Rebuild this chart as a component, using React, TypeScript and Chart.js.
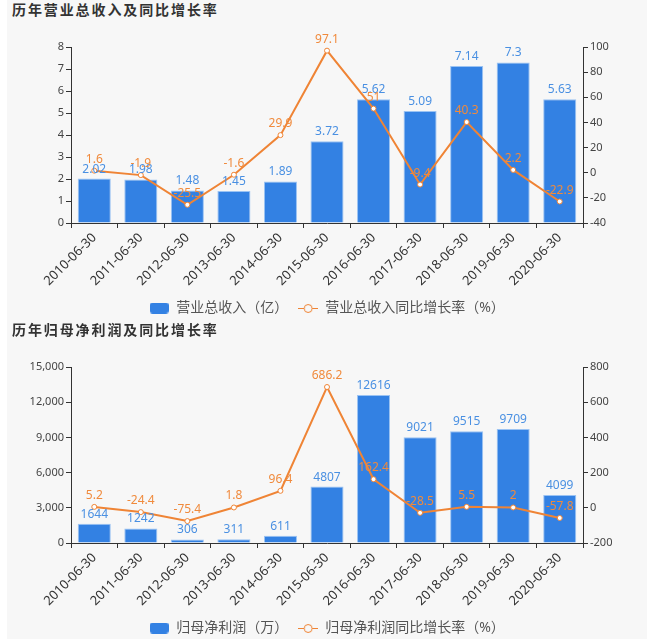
import React, { useEffect, useRef } from 'react';
import { Chart, registerables } from 'chart.js';

Chart.register(...registerables);

const categories = [
  '2010-06-30', '2011-06-30', '2012-06-30', '2013-06-30', '2014-06-30', '2015-06-30',
  '2016-06-30', '2017-06-30', '2018-06-30', '2019-06-30', '2020-06-30',
];
const revenue = [2.02, 1.98, 1.48, 1.45, 1.89, 3.72, 5.62, 5.09, 7.14, 7.3, 5.63];
const revenueGrowth = [1.6, -1.9, -25.5, -1.6, 29.9, 97.1, 51, -9.4, 40.3, 2.2, -22.9];
const profit = [1644, 1242, 306, 311, 611, 4807, 12616, 9021, 9515, 9709, 4099];
const profitGrowth = [5.2, -24.4, -75.4, 1.8, 96.4, 686.2, 162.4, -28.5, 5.5, 2, -57.8];

const revenueAxis = { min: 0, max: 8, step: 1 };
const revenueGrowthAxis = { min: -40, max: 100, step: 20 };
const profitAxis = { min: 0, max: 15000, step: 3000 };
const profitGrowthAxis = { min: -200, max: 800, step: 200 };

const BAR_COLOR = '#3381e3';
const BAR_BORDER = 'rgba(150,192,242,0.95)';
const BAR_LABEL = '#4a90e2';
const LINE_COLOR = '#ef8435';
const LINE_LABEL = '#f08a3c';
const PANEL_BG = '#f7f7f7';
const FONT = '"Noto Sans", "Noto Sans CJK SC", sans-serif';

function makeBarMarker() {
  const c = document.createElement('canvas');
  c.width = 19;
  c.height = 11;
  const ctx = c.getContext('2d')!;
  ctx.fillStyle = BAR_COLOR;
  ctx.beginPath();
  const r = 3, w = 19, h = 11;
  ctx.moveTo(r, 0);
  ctx.lineTo(w - r, 0);
  ctx.quadraticCurveTo(w, 0, w, r);
  ctx.lineTo(w, h - r);
  ctx.quadraticCurveTo(w, h, w - r, h);
  ctx.lineTo(r, h);
  ctx.quadraticCurveTo(0, h, 0, h - r);
  ctx.lineTo(0, r);
  ctx.quadraticCurveTo(0, 0, r, 0);
  ctx.fill();
  return c;
}

function makeLineMarker() {
  const c = document.createElement('canvas');
  c.width = 20;
  c.height = 12;
  const ctx = c.getContext('2d')!;
  ctx.strokeStyle = LINE_COLOR;
  ctx.lineWidth = 1;
  ctx.beginPath();
  ctx.moveTo(0, 6.5);
  ctx.lineTo(20, 6.5);
  ctx.stroke();
  ctx.beginPath();
  ctx.arc(10, 6.5, 4, 0, Math.PI * 2);
  ctx.fillStyle = PANEL_BG;
  ctx.fill();
  ctx.stroke();
  return c;
}

const valueLabels = {
  id: 'valueLabels',
  afterDatasetsDraw(chart: any) {
    const ctx = chart.ctx;
    ctx.save();
    ctx.font = `12px ${FONT}`;
    ctx.textAlign = 'center';
    ctx.textBaseline = 'alphabetic';
    chart.data.datasets.forEach((ds: any, di: number) => {
      const meta = chart.getDatasetMeta(di);
      const isBar = ds.type === 'bar';
      ctx.fillStyle = isBar ? BAR_LABEL : LINE_LABEL;
      meta.data.forEach((el: any, i: number) => {
        const v = ds.data[i];
        ctx.fillText(String(v), el.x, el.y - (isBar ? 6 : 8));
      });
    });
    ctx.restore();
  },
};

interface PanelProps {
  title: string;
  bars: number[];
  line: number[];
  barName: string;
  lineName: string;
  left: { min: number; max: number; step: number };
  right: { min: number; max: number; step: number };
  thousands?: boolean;
  top: number;
}

function ChartPanel(p: PanelProps) {
  const ref = useRef<HTMLCanvasElement>(null);
  useEffect(() => {
    if (!ref.current) return;
    const barMarker = makeBarMarker();
    const lineMarker = makeLineMarker();
    const axisCommon = {
      grid: { drawOnChartArea: false, tickLength: 5, color: '#333' },
      border: { color: '#333' },
    };
    const chart = new Chart(ref.current, {
      type: 'bar',
      data: {
        labels: categories,
        datasets: [
          {
            type: 'bar',
            label: p.barName,
            data: p.bars,
            backgroundColor: BAR_COLOR,
            borderColor: BAR_BORDER,
            borderWidth: 1,
            barPercentage: 0.71,
            categoryPercentage: 1,
            yAxisID: 'y',
            order: 2,
          },
          {
            type: 'line',
            label: p.lineName,
            data: p.line,
            borderColor: LINE_COLOR,
            borderWidth: 2,
            pointRadius: 2.5,
            pointBorderWidth: 1,
            pointBackgroundColor: '#ffffff',
            pointBorderColor: LINE_COLOR,
            tension: 0,
            yAxisID: 'y1',
            order: 1,
          },
        ],
      } as any,
      options: {
        animation: false,
        responsive: false,
        maintainAspectRatio: false,
        layout: { padding: { top: 47, left: 0, right: 0, bottom: 0 } },
        scales: {
          x: {
            ...axisCommon,
            grid: { ...axisCommon.grid, offset: true },
            ticks: {
              color: '#333',
              font: { size: 13, family: FONT },
              minRotation: 45,
              maxRotation: 45,
              autoSkip: false,
              padding: 2,
            },
            afterFit: (s: any) => { s.height = 68; },
          },
          y: {
            ...axisCommon,
            position: 'left',
            min: p.left.min,
            max: p.left.max,
            ticks: {
              stepSize: p.left.step,
              color: '#444',
              font: { size: 11, family: FONT },
              padding: 2,
              callback: (v: any) => (p.thousands ? Number(v).toLocaleString('en-US') : v),
            },
            afterFit: (s: any) => { s.width = 64; },
          },
          y1: {
            ...axisCommon,
            position: 'right',
            min: p.right.min,
            max: p.right.max,
            ticks: {
              stepSize: p.right.step,
              color: '#444',
              font: { size: 11, family: FONT },
              padding: 2,
            },
            afterFit: (s: any) => { s.width = 64; },
          },
        },
        plugins: {
          title: { display: false },
          tooltip: { enabled: false },
          legend: {
            display: true,
            position: 'bottom',
            labels: {
              usePointStyle: true,
              pointStyleWidth: 20,
              boxHeight: 12,
              padding: 10,
              color: '#555',
              font: { size: 14, family: FONT },
              generateLabels: () => [
                { text: p.barName, pointStyle: barMarker as any, fillStyle: BAR_COLOR, strokeStyle: BAR_COLOR, lineWidth: 0, hidden: false, datasetIndex: 0, fontColor: '#555' },
                { text: p.lineName, pointStyle: lineMarker as any, fillStyle: PANEL_BG, strokeStyle: LINE_COLOR, lineWidth: 0, hidden: false, datasetIndex: 1, fontColor: '#555' },
              ],
            },
          },
        },
      } as any,
      plugins: [valueLabels],
    });
    return () => chart.destroy();
  }, []);

  return (
    <div style={{ position: 'absolute', left: 0, top: p.top, width: 640, height: 325 }}>
      <div
        style={{
          position: 'absolute',
          left: 5,
          top: 2,
          font: `bold 14px ${FONT}`,
          lineHeight: '16px',
          letterSpacing: '1.9px',
          color: '#333',
          whiteSpace: 'nowrap',
        }}
      >
        {p.title}
      </div>
      <canvas ref={ref} width={640} height={325} style={{ position: 'absolute', left: 0, top: 0, width: 640, height: 325 }} />
    </div>
  );
}

export default function App() {
  return (
    <div style={{ position: 'absolute', left: 0, top: 0, width: 662, height: 644, overflow: 'hidden', background: '#ffffff' }}>
      <div style={{ position: 'absolute', left: 7, top: 0, width: 640, height: 639, background: PANEL_BG, overflow: 'hidden' }}>
        <ChartPanel
          title="历年营业总收入及同比增长率"
          bars={revenue}
          line={revenueGrowth}
          barName="营业总收入（亿）"
          lineName="营业总收入同比增长率（%）"
          left={revenueAxis}
          right={revenueGrowthAxis}
          top={0}
        />
        <ChartPanel
          title="历年归母净利润及同比增长率"
          bars={profit}
          line={profitGrowth}
          barName="归母净利润（万）"
          lineName="归母净利润同比增长率（%）"
          left={profitAxis}
          right={profitGrowthAxis}
          thousands
          top={320}
        />
      </div>
    </div>
  );
}
